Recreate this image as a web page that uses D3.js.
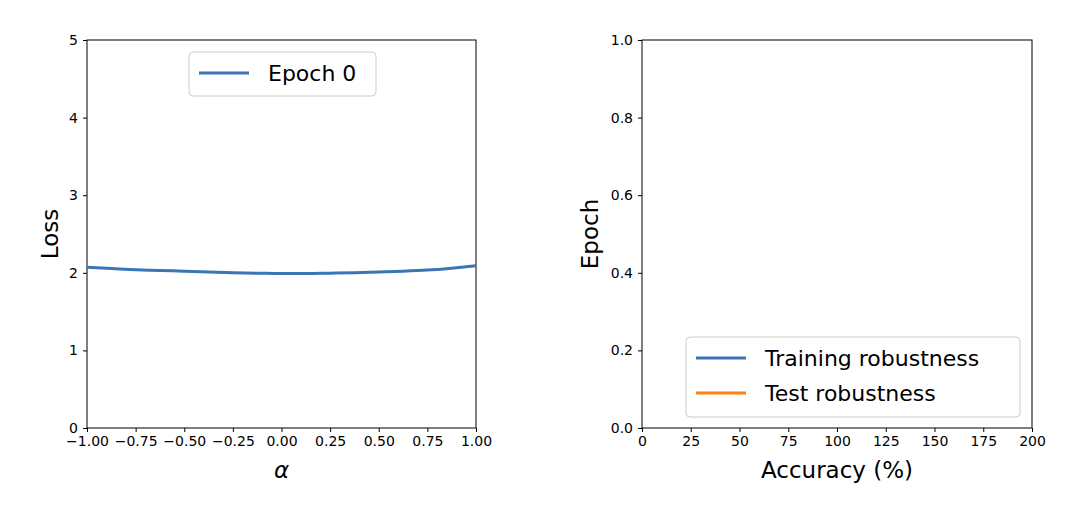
<!DOCTYPE html><html><head><script src="https://cdn.jsdelivr.net/npm/d3@7"></script>
<style>body{margin:0;background:#fff}text{font-family:"DejaVu Sans",sans-serif}</style></head><body>
<svg width="1080" height="515"></svg>
<script>
const alphas=[-1,-0.875,-0.75,-0.625,-0.5,-0.375,-0.25,-0.125,0,0.125,0.25,0.375,0.5,0.625,0.75,0.875,1];
const losses=[2.07,2.055,2.04,2.03,2.02,2.01,2.0,1.995,1.99,1.99,1.995,2.0,2.01,2.02,2.035,2.06,2.09];
const xTicksL=[-1,-0.75,-0.5,-0.25,0,0.25,0.5,0.75,1];
const yTicksL=[0,1,2,3,4,5];
const xTicksR=[0,25,50,75,100,125,150,175,200];
const yTicksR=[0,0.2,0.4,0.6,0.8,1.0];
const svg=d3.select("svg");
const fmtMinus=s=>s.replace("-","\u2212");
function panel(x0,x1,xd,yd,xt,yt,xf,yf,xl,yl,italic,ylx){
 const x=d3.scaleLinear().domain(xd).range([x0,x1]);
 const y=d3.scaleLinear().domain(yd).range([428,40]);
 const gx=svg.append("g").attr("transform","translate(0,428)").call(d3.axisBottom(x).tickValues(xt).tickFormat(d=>fmtMinus(xf(d))).tickSizeOuter(0).tickSize(4).tickPadding(4));
 const gy=svg.append("g").attr("transform",`translate(${x0},0)`).call(d3.axisLeft(y).tickValues(yt).tickFormat(yf).tickSizeOuter(0).tickSize(4).tickPadding(5));
 [gx,gy].forEach(g=>{g.selectAll("text").attr("font-size",14).attr("fill","#000");g.select(".domain").remove();});
 svg.append("rect").attr("x",x0).attr("y",40).attr("width",x1-x0).attr("height",388).attr("fill","none").attr("stroke","#000").attr("stroke-width",1);
 svg.append("text").attr("x",(x0+x1)/2).attr("y",478).attr("text-anchor","middle").attr("font-size",23).attr("font-style",italic?"italic":"normal").text(xl);
 svg.append("text").attr("transform",`translate(${ylx},234) rotate(-90)`).attr("text-anchor","middle").attr("font-size",23).text(yl);
 return {x,y};
}
const L=panel(87,476,[-1,1],[0,5],xTicksL,yTicksL,d3.format(".2f"),d3.format("d"),"α","Loss",true,58);
svg.append("path").datum(alphas.map((a,i)=>[a,losses[i]])).attr("d",d3.line().x(d=>L.x(d[0])).y(d=>L.y(d[1])).curve(d3.curveMonotoneX)).attr("fill","none").attr("stroke","#3a75b5").attr("stroke-width",3);
const R=panel(642,1032,[0,200],[0,1],xTicksR,yTicksR,d3.format("d"),d3.format(".1f"),"Accuracy (%)","Epoch",false,598);
function legend(x,y,w,h,items){
 svg.append("rect").attr("x",x).attr("y",y).attr("width",w).attr("height",h).attr("rx",4).attr("fill","#fff").attr("stroke","#ccc");
 items.forEach((it,i)=>{const cy=y+21+i*35;
  svg.append("line").attr("x1",x+10).attr("x2",x+60).attr("y1",cy).attr("y2",cy).attr("stroke",it[1]).attr("stroke-width",3);
  svg.append("text").attr("x",x+79).attr("y",cy+8).attr("font-size",22).text(it[0]);});
}
legend(189,52,187,44,[["Epoch 0","#3a75b5"]]);
legend(686,337,334,80,[["Training robustness","#3a75b5"],["Test robustness","#ff7f0e"]]);
</script></body></html>
